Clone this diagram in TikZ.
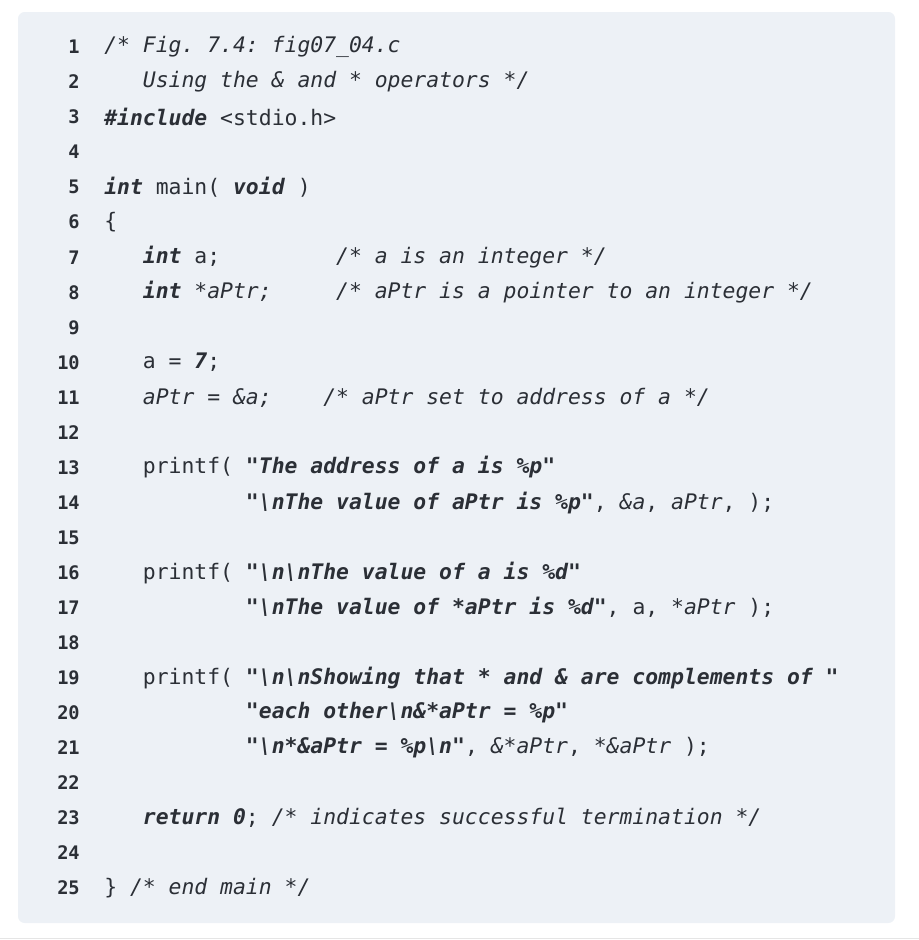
\documentclass[tikz,border=0pt]{standalone}
\usepackage{fontspec}
\setmonofont{DejaVu Sans Mono}
\definecolor{bgc}{HTML}{EDF1F6}
\definecolor{txt}{HTML}{2B2F36}
\newcommand\kw[1]{\textbf{\textit{#1}}}
\newcommand\cm[1]{\textit{#1}}
\newcommand\bs{\textbackslash}
\newcommand\cl[2]{\node[numst] (n#1) at (80,{47+(#1-1)*35.04}) {#1};
  \node[codest] (c#1) at (104,{47+(#1-1)*35.04}) {#2};}
\newcommand\el[1]{\node[numst] (n#1) at (80,{47+(#1-1)*35.04}) {#1};}
\begin{document}
\begin{tikzpicture}[x=0.75pt,y=-0.75pt,
  numst/.style={anchor=east,inner sep=0pt,font=\ttfamily\bfseries\fontsize{14}{16}\selectfont,text=txt},
  codest/.style={anchor=west,inner sep=0pt,font=\ttfamily\fontsize{16.05}{18}\selectfont,text=txt}]
\useasboundingbox (0,0) rectangle (919,940);
\fill[bgc,rounded corners=5pt] (18,12) rectangle (895,923);
\draw[gray!20] (0,938.5) -- (919,938.5);
\cl{1}{\cm{/*~Fig.~7.4:~fig07\_04.c}}
\cl{2}{\cm{~~~Using~the~\&~and~*~operators~*/}}
\cl{3}{\kw{\#include}~<stdio.h>}
\el{4}
\cl{5}{\kw{int}~main(~\kw{void}~)}
\cl{6}{\{}
\cl{7}{~~~\kw{int}~a;~~~~~~~~~\cm{/*~a~is~an~integer~*/}}
\cl{8}{~~~\kw{int}~\cm{*aPtr;}~~~~~\cm{/*~aPtr~is~a~pointer~to~an~integer~*/}}
\el{9}
\cl{10}{~~~a~=~\kw{7};}
\cl{11}{~~~\cm{aPtr}~=~\cm{\&a;}~~~~\cm{/*~aPtr~set~to~address~of~a~*/}}
\el{12}
\cl{13}{~~~printf(~\kw{"The~address~of~a~is~\%p"}}
\cl{14}{~~~~~~~~~~~\kw{"\bs nThe~value~of~aPtr~is~\%p"},~\cm{\&a},~\cm{aPtr},~);}
\el{15}
\cl{16}{~~~printf(~\kw{"\bs n\bs nThe~value~of~a~is~\%d"}}
\cl{17}{~~~~~~~~~~~\kw{"\bs nThe~value~of~*aPtr~is~\%d"},~a,~\cm{*aPtr}~);}
\el{18}
\cl{19}{~~~printf(~\kw{"\bs n\bs nShowing~that~*~and~\&~are~complements~of~"}}
\cl{20}{~~~~~~~~~~~\kw{"each~other\bs n\&*aPtr~=~\%p"}}
\cl{21}{~~~~~~~~~~~\kw{"\bs n*\&aPtr~=~\%p\bs n"},~\cm{\&*aPtr},~\cm{*\&aPtr}~);}
\el{22}
\cl{23}{~~~\kw{return}~\kw{0};~\cm{/*~indicates~successful~termination~*/}}
\el{24}
\cl{25}{\}~\cm{/*~end~main~*/}}
\end{tikzpicture}
\end{document}
